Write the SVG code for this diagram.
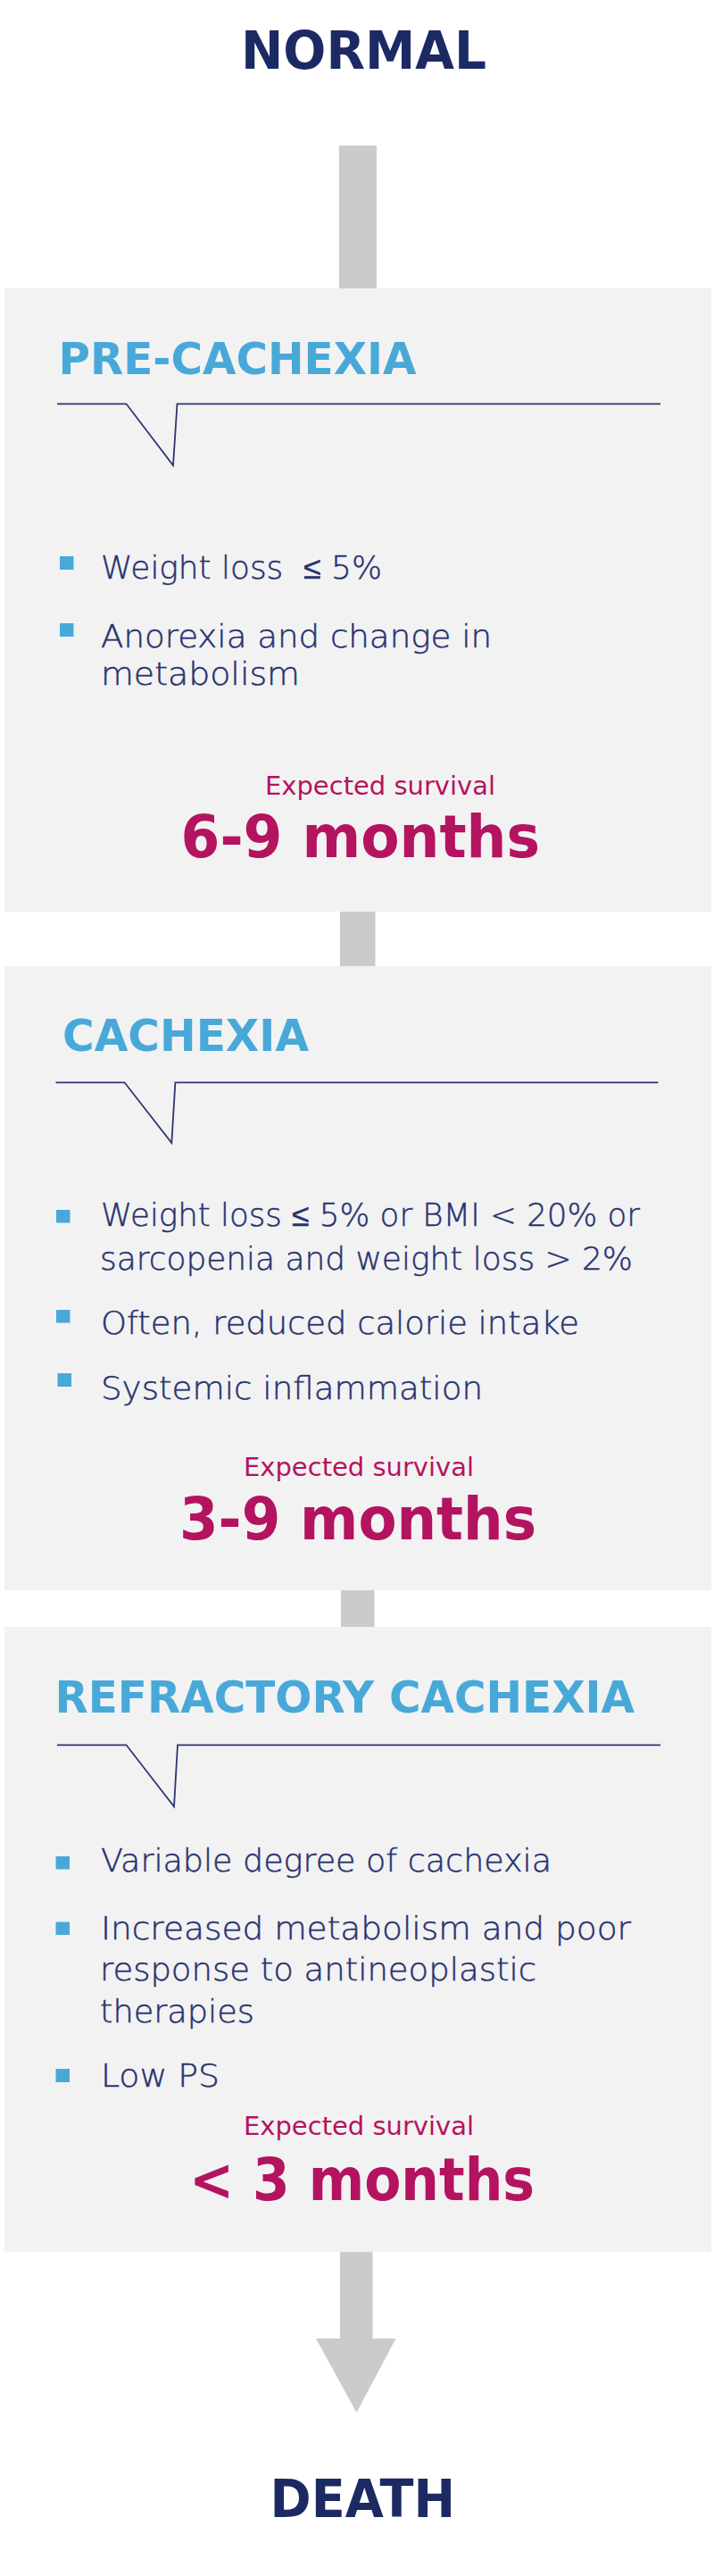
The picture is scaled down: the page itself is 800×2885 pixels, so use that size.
<svg xmlns="http://www.w3.org/2000/svg" width="800" height="2885" viewBox="0 0 800 2885">
<style>
.term{font-family:"DejaVu Sans","Liberation Sans",sans-serif;font-weight:bold;font-size:58px;fill:#1c2a64}
.head{font-family:"DejaVu Sans","Liberation Sans",sans-serif;font-weight:bold;font-size:50px;fill:#48a9d9}
.body{font-family:"DejaVu Sans","Liberation Sans",sans-serif;font-weight:300;font-size:35px;fill:#283270;stroke:#283270;stroke-width:0.45}
.exp{font-family:"DejaVu Sans","Liberation Sans",sans-serif;font-size:29px;fill:#b41360}
.big{font-family:"DejaVu Sans","Liberation Sans",sans-serif;font-weight:bold;font-size:66px;fill:#b41360}
.box{fill:#f2f2f2}
.bul{fill:#48a9d9}
.call{fill:none;stroke:#2d3473;stroke-width:1.8;stroke-linejoin:miter}
.conn{fill:#cbcbcb}
</style>
<rect width="800" height="2885" fill="#ffffff"/>
<g id="connectors">
<rect class="conn" x="380" y="163" width="42" height="160"/>
<rect class="conn" x="381" y="1021" width="39.5" height="61"/>
<rect class="conn" x="382" y="1781" width="37.5" height="41"/>
<path class="conn" d="M381 2522 H417.5 V2619 H443.5 L399.5 2702 L354 2619 H381 Z"/>
</g>
<g id="node-normal">
<text class="term" x="270" y="77" textLength="275" lengthAdjust="spacingAndGlyphs">NORMAL</text>
</g>
<g id="node-pre-cachexia">
<rect class="box" x="5" y="323" width="792" height="698"/>
<text class="head" x="65.5" y="419" textLength="401" lengthAdjust="spacingAndGlyphs">PRE-CACHEXIA</text>
<path class="call" d="M64 452.3 H141.5 L194 521.2 L198.5 452.3 H740"/>
<rect class="bul" x="67" y="623" width="15.5" height="15"/>
<text class="body" x="113" y="647.5" textLength="315" lengthAdjust="spacingAndGlyphs" xml:space="preserve">Weight loss  ≤ 5%</text>
<rect class="bul" x="67" y="698" width="15.5" height="15"/>
<text class="body" x="113" y="725" textLength="438" lengthAdjust="spacingAndGlyphs">Anorexia and change in</text>
<text class="body" x="113" y="766.7" textLength="223" lengthAdjust="spacingAndGlyphs">metabolism</text>
<text class="exp" x="297" y="890" textLength="258" lengthAdjust="spacingAndGlyphs">Expected survival</text>
<text class="big" x="202.5" y="960" textLength="402.5" lengthAdjust="spacingAndGlyphs">6-9 months</text>
</g>
<g id="node-cachexia">
<rect class="box" x="5" y="1082" width="792" height="699"/>
<text class="head" x="70" y="1177.3" textLength="276" lengthAdjust="spacingAndGlyphs">CACHEXIA</text>
<path class="call" d="M62.5 1212.3 H139.5 L192.3 1280 L196.4 1212.3 H737.5"/>
<rect class="bul" x="63" y="1355" width="15.5" height="14.5"/>
<text class="body" x="113" y="1373.3" textLength="604" lengthAdjust="spacingAndGlyphs">Weight loss ≤ 5% or BMI &lt; 20% or</text>
<text class="body" x="112" y="1421.7" textLength="597" lengthAdjust="spacingAndGlyphs">sarcopenia and weight loss &gt; 2%</text>
<rect class="bul" x="63" y="1467" width="15.5" height="14.5"/>
<text class="body" x="113" y="1494" textLength="536" lengthAdjust="spacingAndGlyphs">Often, reduced calorie intake</text>
<rect class="bul" x="64.5" y="1538" width="15.5" height="15"/>
<text class="body" x="113" y="1566.7" textLength="428" lengthAdjust="spacingAndGlyphs">Systemic inflammation</text>
<text class="exp" x="273" y="1652.7" textLength="258" lengthAdjust="spacingAndGlyphs">Expected survival</text>
<text class="big" x="201" y="1724" textLength="400" lengthAdjust="spacingAndGlyphs">3-9 months</text>
</g>
<g id="node-refractory-cachexia">
<rect class="box" x="5" y="1822" width="792" height="700"/>
<text class="head" x="61.5" y="1917.7" textLength="649.5" lengthAdjust="spacingAndGlyphs">REFRACTORY CACHEXIA</text>
<path class="call" d="M64 1954.3 H141.5 L195 2023.3 L199 1954.3 H740"/>
<rect class="bul" x="62.5" y="2079" width="15.5" height="14.5"/>
<text class="body" x="113" y="2096" textLength="505" lengthAdjust="spacingAndGlyphs">Variable degree of cachexia</text>
<rect class="bul" x="62.5" y="2152.5" width="15.5" height="14.5"/>
<text class="body" x="113" y="2171.5" textLength="594" lengthAdjust="spacingAndGlyphs">Increased metabolism and poor</text>
<text class="body" x="112" y="2218" textLength="489" lengthAdjust="spacingAndGlyphs">response to antineoplastic</text>
<text class="body" x="112" y="2264.8" textLength="173" lengthAdjust="spacingAndGlyphs">therapies</text>
<rect class="bul" x="62.5" y="2317" width="15.5" height="15"/>
<text class="body" x="113" y="2336.6" textLength="133" lengthAdjust="spacingAndGlyphs">Low PS</text>
<text class="exp" x="273" y="2390.7" textLength="258" lengthAdjust="spacingAndGlyphs">Expected survival</text>
<text class="big" x="212" y="2464" textLength="387" lengthAdjust="spacingAndGlyphs">&lt; 3 months</text>
</g>
<g id="node-death">
<text class="term" x="302.6" y="2819.4" textLength="207.4" lengthAdjust="spacingAndGlyphs">DEATH</text>
</g>
</svg>
